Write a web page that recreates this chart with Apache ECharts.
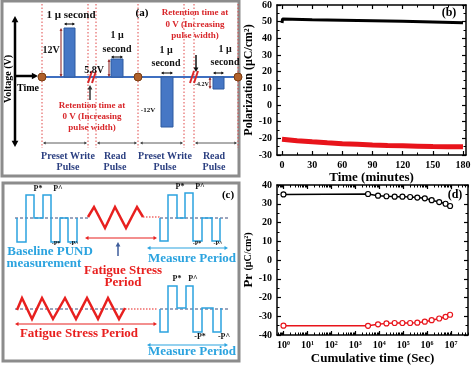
<!DOCTYPE html>
<html><head><meta charset="utf-8">
<script src="https://cdn.jsdelivr.net/npm/echarts@6/dist/echarts.min.js"></script>
<style>html,body{margin:0;padding:0;background:#fff}#c{width:474px;height:366px}</style>
</head><body><div id="c"></div>
<script>
// ---------- data: panel (b) retention ----------
const posTime = [0, 0.5, 30, 60, 90, 120, 150, 180];
const posPol  = [49.2, 51.6, 51.2, 50.9, 50.6, 50.2, 49.8, 49.4];
const negTime = [0, 15, 30, 45, 60, 75, 90, 105, 120, 135, 150, 165, 180];
const negPol  = [-20.6, -21.4, -22.1, -22.7, -23.2, -23.6, -24.0, -24.3, -24.5, -24.7, -24.9, -25.0, -25.1];
const bTicks  = [0, 30, 60, 90, 120, 150, 180];
const bMinor  = [15, 45, 75, 105, 135, 165];
// ---------- data: panel (d) fatigue ----------
const cumTime = [1, 3400, 8900, 20000, 44000, 93000, 195000, 390000, 800000, 1550000, 3200000, 5900000, 9100000];
const prPos   = [35.0, 35.2, 34.3, 34.0, 33.8, 33.8, 33.6, 33.3, 32.9, 31.9, 30.9, 30.0, 28.8];
const prNeg   = [-35.0, -35.1, -34.3, -33.8, -33.6, -33.6, -33.6, -33.4, -32.9, -32.1, -31.2, -30.3, -29.2];
const dTicks  = [1, 10, 100, 1000, 10000, 100000, 1000000, 10000000];

const SERIF = '"Liberation Serif","DejaVu Serif",serif';
const dMinor = [];
[0.6,0.7,0.8,0.9].forEach(v=>dMinor.push(v));
for (let k=0;k<7;k++) for (let m=2;m<10;m++) dMinor.push(m*Math.pow(10,k));
[2e7,3e7,4e7,5e7].forEach(v=>dMinor.push(v));

// ---------- schematic helpers ----------
const G = [];
function L(x1,y1,x2,y2,c,w,dash){G.push({type:'line',silent:true,shape:{x1,y1,x2,y2},style:{stroke:c,lineWidth:w,lineDash:dash||null}});}
function P(pts,c,w,dash){G.push({type:'polyline',silent:true,shape:{points:pts},style:{stroke:c,lineWidth:w,fill:null,lineDash:dash||null,lineJoin:'miter'}});}
function head(x,y,ang,c,s){const a1=ang+Math.PI*0.84,a2=ang-Math.PI*0.84;
  G.push({type:'polygon',silent:true,shape:{points:[[x,y],[x+s*Math.cos(a1),y+s*Math.sin(a1)],[x+s*Math.cos(a2),y+s*Math.sin(a2)]]},style:{fill:c}});}
function A(x1,y1,x2,y2,c,w,s,both){const ang=Math.atan2(y2-y1,x2-x1),dx=Math.cos(ang)*s*0.6,dy=Math.sin(ang)*s*0.6;
  L(both?x1+dx:x1,both?y1+dy:y1,x2-dx,y2-dy,c,w);head(x2,y2,ang,c,s);if(both)head(x1,y1,ang+Math.PI,c,s);}
function T(x,y,str,size,c,rot){G.push({type:'text',silent:true,x,y,rotation:rot||0,style:{text:str,fill:c,font:'bold '+size+'px '+SERIF,textAlign:'center',textVerticalAlign:'middle',align:'center',verticalAlign:'middle'}});}
function R(x,y,w,h,fill,stroke,lw){G.push({type:'rect',silent:true,shape:{x,y,width:w,height:h},style:{fill:fill,stroke:stroke,lineWidth:lw||1}});}
function C(x,y,r,fill,stroke){G.push({type:'circle',silent:true,shape:{cx:x,cy:y,r},style:{fill,stroke,lineWidth:1}});}

// panel borders
R(2,1,237,175,null,'#8c8c8c',3);
R(3,183,236,178,null,'#8c8c8c',3);

// ---------- panel (a) ----------
const RED='#d8262a', NAVY='#2b3f80', BLUE='#4677c5', BLUED='#2d5aa0';
[42,88,96,138,184,194,238].forEach(x=>L(x,4,x,148,'#e04848',1,[1.5,2]));
A(15,147,15,16,'#000',2.5,7,true);
A(15,76,38,76,'#000',2.5,7,false);
T(8,79,'Voltage (V)',10,'#000',Math.PI/2);
T(28,88,'Time',10,'#000');
L(38,77,240,77,'#3f6fc0',2);
R(64,28,11,49,BLUE,BLUED,1);
R(111,59,12,18,BLUE,BLUED,1);
R(161,77,12,50,BLUE,BLUED,1);
R(213,77,11,12,BLUE,BLUED,1);
C(42,77,4,'#b0602a','#7a3b10');C(138,77,4,'#b0602a','#7a3b10');C(238,77,4,'#b0602a','#7a3b10');
[88,190].forEach(x=>{L(x,83,x+4,71,RED,2);L(x+4,83,x+8,71,RED,2);});
A(64,24,75,24,'#000',1,3,true);
A(111,57,123,57,'#000',1,3,true);
A(161,73,173,73,'#000',1,3,true);
A(213,73,224,73,'#000',1,3,true);
A(61,28,61,77,'#8b1a1a',1,3,true);
A(109,59,109,77,'#8b1a1a',1,3,true);
A(210,77,210,89,'#8b1a1a',1,3,true);
A(90,100,90,85,'#333',1.5,5,false);
A(196,55,196,72,'#111',1.5,5,false);
T(71,15,'1 μ second',11,'#111');
T(51,50,'12V',10,'#111');
T(117,35,'1 μ',10,'#111');T(117,49,'second',10,'#111');
T(94,70,'5.8V',10,'#111');
T(166,50,'1 μ',10,'#111');T(166,63,'second',10,'#111');
T(148,110,'-12V',7,'#111');
T(225,49,'1 μ',10,'#111');T(225,62,'second',10,'#111');
T(202,84,'-4.2V',6,'#111');
T(142,13,'(a)',11,'#000');
T(92,106,'Retention time at',9,RED);T(92,117,'0 V (Increasing',9,RED);T(92,128,'pulse width)',9,RED);
T(195,13,'Retention time at',9,RED);T(195,25,'0 V (Increasing',9,RED);T(195,36,'pulse width)',9,RED);
A(43,143,87,143,'#333',0.8,3,true);A(97,143,137,143,'#333',0.8,3,true);
A(140,143,183,143,'#333',0.8,3,true);A(195,143,237,143,'#333',0.8,3,true);
T(68,156,'Preset Write',10,NAVY);T(68,167,'Pulse',10,NAVY);
T(115,156,'Read',10,NAVY);T(115,167,'Pulse',10,NAVY);
T(165,156,'Preset Write',10,NAVY);T(165,167,'Pulse',10,NAVY);
T(214,156,'Read',10,NAVY);T(214,167,'Pulse',10,NAVY);

// ---------- panel (c) ----------
const LB='#2ba3df', ZR='#e8201f', DN='#3a4a7a';
L(15,218,88,218,DN,1,[3,2]);
P([[17,218],[17,242],[26,242],[26,195],[34,195],[34,218],[43,218],[43,195],[51,195],[51,242],[60,242],[60,218],[68,218],[68,242],[77,242],[77,218]],LB,1.5);
P([[88,217],[94,207],[105,228],[115,207],[126,228],[137,207],[143,217]],ZR,2.5);
L(143,217,160,217,ZR,1.2,[1.5,1.5]);
L(160,218,230,218,DN,1,[3,2]);
P([[160,218],[160,241],[168,241],[168,195],[177,195],[177,218],[185,218],[185,193],[193,193],[193,241],[202,241],[202,218],[212,218],[212,241],[220,241],[220,218]],LB,1.5);
T(38,189,'P*',8,'#111');T(58,189,'P^',8,'#111');T(56,243,'-P*',6,'#111');T(74,243,'-P^',6,'#111');
T(180,187,'P*',8,'#111');T(200,187,'P^',8,'#111');T(197,243,'-P*',6,'#111');T(218,243,'-P^',6,'#111');
A(85,238,157,238,ZR,1.2,4,true);
A(118,256,118,242,'#3e5d9b',1.5,5,false);
A(147,248,228,248,LB,1.2,4,true);
T(192,259,'Measure Period',13,LB);
T(50,252,'Baseline PUND',13,LB);T(44,264,'measurement',13,LB);
T(123,271,'Fatigue Stress',13,ZR);T(123,283,'Period',13,ZR);
T(228,195,'(c)',11,'#000');
L(15,309,125,309,DN,1,[3,2]);
P([[17,310],[22,298],[32,319],[42,298],[53,319],[65,298],[76,319],[87,298],[98,319],[108,298],[119,319],[125,308]],ZR,2.5);
L(125,309,158,309,ZR,1.2,[1.5,1.5]);
L(160,309,230,309,DN,1,[3,2]);
P([[160,309],[160,332],[168,332],[168,286],[177,286],[177,308],[186,308],[186,286],[193,286],[193,332],[202,332],[202,308],[213,308],[213,332],[221,332],[221,308]],LB,1.5);
T(177,279,'P*',8,'#111');T(193,279,'P^',8,'#111');T(200,337,'-P*',8,'#111');T(224,337,'-P^',8,'#111');
A(15,324,157,324,ZR,1.2,4,true);
T(79,334,'Fatigue Stress Period',13,ZR);
A(147,345,228,345,LB,1.2,4,true);
T(192,352,'Measure Period',13,LB);

// panel labels for charts
T(449,13,'(b)',12,'#000');
T(455,195,'(d)',12,'#000');

// ---------- charts ----------
const lbl = {color:'#000',fontFamily:SERIF,fontWeight:'bold',fontSize:10};
const axLine = {show:true,onZero:false,lineStyle:{color:'#000',width:1.5}};
const noLine = {show:false,onZero:false};
const off = {show:false};
function frameX(grid,pos,ticksMajor,ticksMinor,extra,labels){
  const arr=[];
  arr.push(Object.assign({gridIndex:grid,position:pos,axisLine:axLine,splitLine:off,
    axisTick:{show:true,inside:true,length:4,customValues:ticksMajor,lineStyle:{color:'#000',width:1.2}},
    axisLabel:labels?Object.assign({show:true,customValues:ticksMajor,margin:5},labels):{show:false}},extra));
  arr.push(Object.assign({gridIndex:grid,position:pos,axisLine:noLine,splitLine:off,
    axisTick:{show:true,inside:true,length:2.5,customValues:ticksMinor,lineStyle:{color:'#000',width:1}},
    axisLabel:{show:false}},extra));
  return arr;
}
const xB = {type:'value',min:-5,max:183};
const xD = {type:'log',logBase:10,min:0.537,max:5.1e7};
const xAxes = [].concat(
  frameX(0,'bottom',bTicks,bMinor,xB,lbl),
  frameX(0,'top',bTicks,bMinor,xB,null),
  frameX(1,'bottom',dTicks,dMinor,xD,Object.assign({},lbl,{
    formatter:v=>'{b|10}{s|'+Math.round(Math.log10(v))+'}',
    rich:{b:{fontFamily:SERIF,fontWeight:'bold',fontSize:10,color:'#000'},s:{fontFamily:SERIF,fontWeight:'bold',fontSize:6,color:'#000',verticalAlign:'top',padding:[0,0,5,0]}}})),
  frameX(1,'top',dTicks,dMinor,xD,null)
);
xAxes[0].name='Time (minutes)';xAxes[0].nameLocation='middle';xAxes[0].nameGap=9;
xAxes[0].nameTextStyle={fontFamily:SERIF,fontWeight:'bold',fontSize:13,color:'#000'};
xAxes[4].name='Cumulative time (Sec)';xAxes[4].nameLocation='middle';xAxes[4].nameGap=17;
xAxes[4].nameTextStyle={fontFamily:SERIF,fontWeight:'bold',fontSize:13,color:'#000'};

function yax(grid,pos,min,max,labels,name,nameStyle){
  return {type:'value',gridIndex:grid,position:pos,min,max,interval:10,axisLine:axLine,splitLine:off,
    axisTick:{show:true,inside:true,length:4,lineStyle:{color:'#000',width:1.2}},
    minorTick:{show:true,splitNumber:2,length:2.5,lineStyle:{color:'#000',width:1}},
    axisLabel:labels?Object.assign({margin:5},lbl):{show:false},
    name:name||'',nameLocation:'middle',nameGap:16,nameRotate:90,nameTextStyle:nameStyle||{}};
}
const yAxes=[
  yax(0,'left',-30,60,true,'Polarization (μC/cm²)',{fontFamily:SERIF,fontWeight:'bold',fontSize:12,color:'#000'}),
  yax(0,'right',-30,60,false),
  yax(1,'left',-40,40,true,'{p|Pr} {q|(μC/cm²)}',{rich:{p:{fontFamily:SERIF,fontWeight:'bold',fontSize:13,color:'#000'},q:{fontFamily:SERIF,fontWeight:'bold',fontSize:10,color:'#000'}}}),
  yax(1,'right',-40,40,false)
];

const zip=(a,b)=>a.map((v,i)=>[v,b[i]]);
const option = {
  animation:false,
  backgroundColor:'#fff',
  grid:[{left:277,top:5,width:189,height:150},{left:277,top:185,width:191,height:154}],
  xAxis:xAxes,
  yAxis:yAxes,
  series:[
    {type:'line',xAxisIndex:0,yAxisIndex:0,data:zip(posTime,posPol),showSymbol:false,lineStyle:{color:'#000',width:3}},
    {type:'line',xAxisIndex:0,yAxisIndex:0,data:zip(negTime,negPol),showSymbol:false,lineStyle:{color:'#e8141b',width:5}},
    {type:'line',xAxisIndex:4,yAxisIndex:2,data:zip(cumTime,prPos),symbol:'circle',symbolSize:5,
      itemStyle:{color:'#fff',borderColor:'#000',borderWidth:1.2},lineStyle:{color:'#000',width:1.5}},
    {type:'line',xAxisIndex:4,yAxisIndex:2,data:zip(cumTime,prNeg),symbol:'circle',symbolSize:5,
      itemStyle:{color:'#fff',borderColor:'#e8141b',borderWidth:1.2},lineStyle:{color:'#e8141b',width:1.5}}
  ],
  graphic:{elements:G}
};
const chart = echarts.init(document.getElementById('c'),null,{renderer:'canvas'});
chart.setOption(option);
</script></body></html>
